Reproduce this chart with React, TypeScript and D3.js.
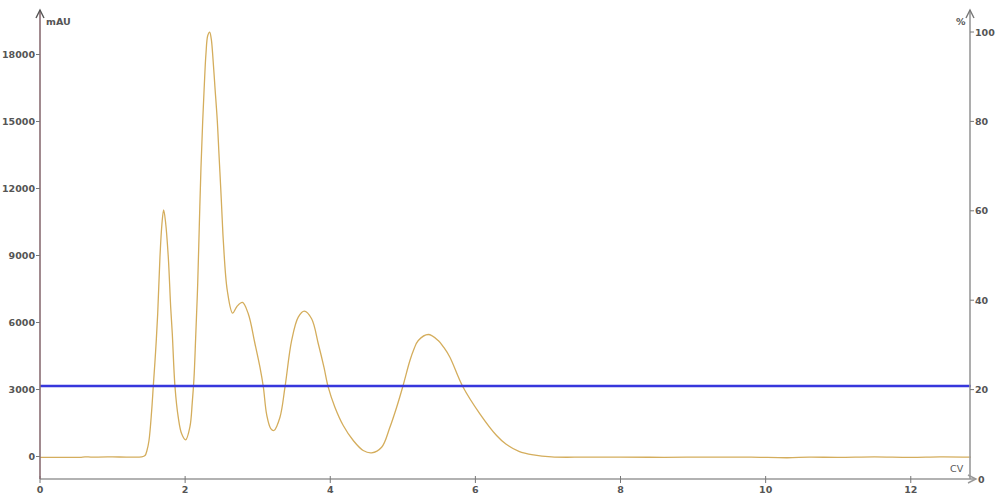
import React from "react";
import * as d3 from "d3";

// UV trace (CV, mAU)
const cv = [
  0, 0.3, 0.55, 0.62, 0.7, 0.8, 1.0, 1.2, 1.4, 1.447, 1.474, 1.502, 1.539, 1.561, 1.594, 1.622, 1.653,
  1.68, 1.704, 1.73, 1.768, 1.801, 1.823, 1.86, 1.905, 1.952, 2.007, 2.067, 2.098, 2.122, 2.145,
  2.173, 2.195, 2.218, 2.242, 2.264, 2.287, 2.312, 2.338, 2.36, 2.379, 2.411, 2.443, 2.466, 2.49,
  2.512, 2.526, 2.581, 2.655, 2.714, 2.79, 2.87, 2.962, 3.031, 3.077, 3.125, 3.18, 3.224, 3.307, 3.376,
  3.468, 3.559, 3.642, 3.743, 3.835, 3.913, 3.972, 4.064, 4.179, 4.317, 4.454, 4.57, 4.708, 4.822,
  4.915, 4.997, 5.098, 5.15, 5.213, 5.35, 5.488, 5.57, 5.649, 5.824, 6.062, 6.292, 6.42, 6.6, 6.8, 7.05, 7.5,
  8.0, 8.6, 9.2, 9.8, 10.3, 10.6, 11.0, 11.5, 12.0, 12.4, 12.83,
];
const mAU = [
  -40, -40, -35, -15, -25, -25, -20, -25, -15, 45, 270, 716, 2060, 3135, 4747, 6390, 8925,
  10400, 11047, 10500, 8925, 6686, 5508, 3135, 1760, 1017, 748, 1350, 2400, 3500, 5300,
  7700, 10300, 12900, 15000, 16600, 18033, 18850, 19000, 18700, 18033, 16537, 15046, 13568, 12059,
  10568, 9672, 7433, 6417, 6717, 6896, 6390, 5060, 3999, 3135, 1850, 1250, 1164, 1760, 3103,
  5195, 6238, 6507, 6166, 5047, 3999, 3103, 2208, 1388, 716, 269, 166, 416, 1312,
  2208, 3103, 4299, 4780, 5194, 5463, 5194, 4860, 4447, 3148, 1912, 940, 560, 230, 70, -20, -30,
  -25, -35, -25, -30, -55, -30, -40, -20, -40, -15, -25,
];

// concentration (%B) – flat line
const concCv = [0, 12.83];
const concPct = [20.8, 20.8];

const leftTicks = [0, 3000, 6000, 9000, 12000, 15000, 18000];
const rightTicks = [20, 40, 60, 80, 100];
const xTicks = [0, 2, 4, 6, 8, 10, 12];

const W = 1001;
const H = 499;

export default function App() {
  const x = d3.scaleLinear().domain([0, 12.83]).range([40, 971]);
  const yL = d3.scaleLinear().domain([0, 18000]).range([456.5, 54.5]);
  const yR = d3.scaleLinear().domain([0, 100]).range([479, 32]);

  const uvLine = d3
    .line<number>()
    .x((_, i) => x(cv[i]))
    .y((d) => yL(d))
    .curve(d3.curveCatmullRom.alpha(0.5));

  const concLine = d3
    .line<number>()
    .x((_, i) => x(concCv[i]))
    .y((d) => yR(d));

  const x0 = x(0);
  const xr = 970;
  const yb = 479;
  const labelStyle = {
    fontFamily: "DejaVu Sans, sans-serif",
    fontSize: 9.5,
    fontWeight: 700,
    fill: "#555",
  } as const;

  return (
    <svg width={W} height={H} style={{ position: "absolute", left: 0, top: 0 }}>
      <rect width={W} height={H} fill="#fff" />

      {/* curves */}
      <path d={uvLine(mAU) ?? ""} fill="none" stroke="#d4ad5c" strokeWidth={1.3} />
      <path d={concLine(concPct) ?? ""} fill="none" stroke="#3737dc" strokeWidth={2.6} />

      {/* bottom axis */}
      <line x1={x0} x2={976} y1={yb} y2={yb} stroke="#999" strokeWidth={1.6} />
      <path d={`M968,${yb - 4} L976,${yb} L968,${yb + 4}`} fill="none" stroke="#999" strokeWidth={1.4} />
      {xTicks.map((t) => (
        <g key={t}>
          <line x1={x(t)} x2={x(t)} y1={yb - 3} y2={yb + 4} stroke="#777" strokeWidth={1} />
          <text x={x(t)} y={yb + 14} textAnchor="middle" {...labelStyle}>
            {t}
          </text>
        </g>
      ))}
      <text x={950} y={472} {...labelStyle} fontWeight={400}>
        CV
      </text>

      {/* left axis */}
      <line x1={x0} x2={x0} y1={yb} y2={10} stroke="#8a6d73" strokeWidth={1.6} />
      <path d={`M${x0 - 4},18 L${x0},10 L${x0 + 4},18`} fill="none" stroke="#555" strokeWidth={1.4} />
      {leftTicks.map((t) => (
        <g key={t}>
          <line x1={x0 - 4} x2={x0} y1={yL(t)} y2={yL(t)} stroke="#777" strokeWidth={1} />
          <text x={x0 - 5} y={yL(t) + 3.5} textAnchor="end" {...labelStyle}>
            {t}
          </text>
        </g>
      ))}
      <text x={46} y={25} {...labelStyle}>
        mAU
      </text>

      {/* right axis */}
      <line x1={xr} x2={xr} y1={yb} y2={10} stroke="#999" strokeWidth={1.6} />
      <path d={`M${xr - 4},18 L${xr},10 L${xr + 4},18`} fill="none" stroke="#777" strokeWidth={1.4} />
      {rightTicks.map((t) => (
        <g key={t}>
          <line x1={xr} x2={xr + 4} y1={yR(t)} y2={yR(t)} stroke="#777" strokeWidth={1} />
          <text x={xr + 5} y={yR(t) + 3.5} textAnchor="start" {...labelStyle}>
            {t}
          </text>
        </g>
      ))}
      <text x={978} y={yb + 3.5} {...labelStyle}>
        0
      </text>
      <text x={956} y={25} {...labelStyle}>
        %
      </text>
    </svg>
  );
}
